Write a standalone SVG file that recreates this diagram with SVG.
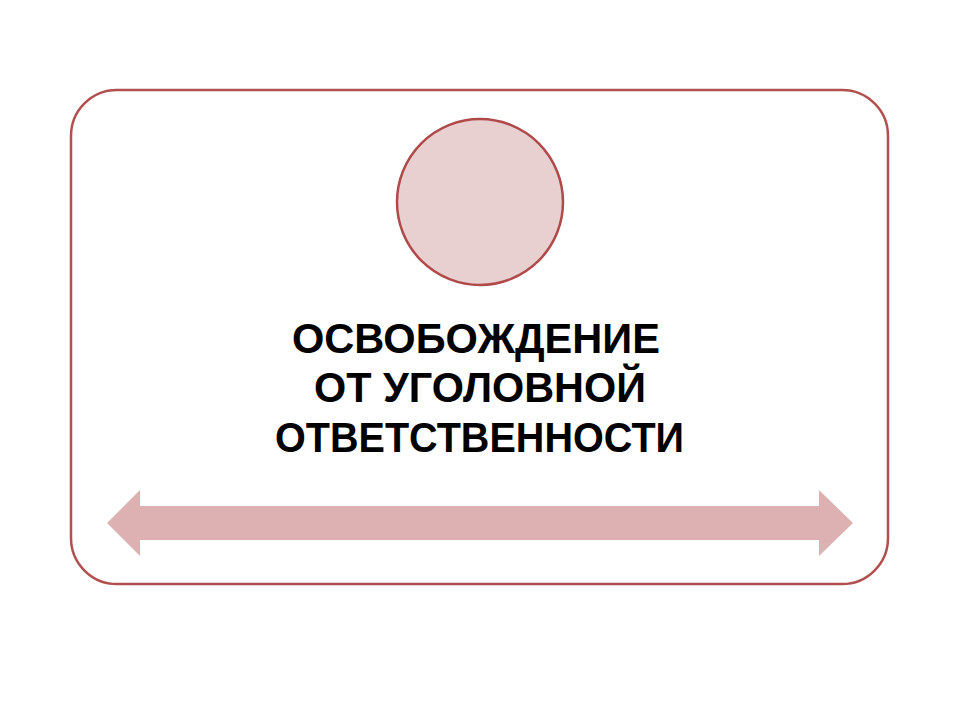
<svg xmlns="http://www.w3.org/2000/svg" width="960" height="720" viewBox="0 0 960 720">
<style>
.frame{fill:#ffffff;stroke:#b0504f;stroke-width:2.5}
.circ{fill:#e8d0d0;stroke:#b04a4a;stroke-width:2.5}
.arr{fill:#ddb1b1}
.t{font-family:"Liberation Sans","Arial",sans-serif;font-weight:bold;font-size:43px;fill:#000000}
</style>
<rect width="960" height="720" fill="#ffffff"/>
<g id="frame"><rect class="frame" x="71" y="90" width="817" height="494" rx="46" ry="46"/></g>
<g id="circle"><circle class="circ" cx="480" cy="202" r="83"/></g>
<g id="label">
<text class="t" x="292" y="353" textLength="368" lengthAdjust="spacingAndGlyphs">ОСВОБОЖДЕНИЕ</text>
<text class="t" x="314" y="402" textLength="332" lengthAdjust="spacingAndGlyphs">ОТ УГОЛОВНОЙ</text>
<text class="t" x="275" y="452" textLength="409" lengthAdjust="spacingAndGlyphs">ОТВЕТСТВЕННОСТИ</text>
</g>
<g id="connectors">
<polygon class="arr" points="107,523 140,490 140,506 819,506 819,490 853,523 819,556 819,540 140,540 140,556"/>
</g>
</svg>
